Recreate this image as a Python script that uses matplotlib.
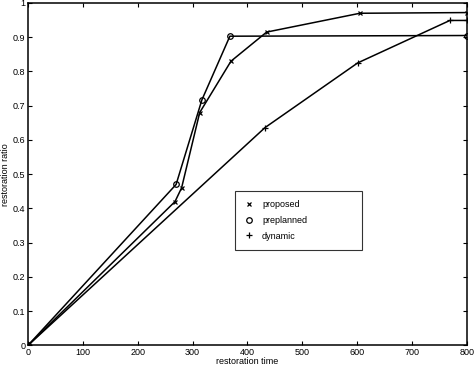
import matplotlib
matplotlib.use("Agg")
import matplotlib.pyplot as plt
from matplotlib.lines import Line2D

# data
proposed_t = [0, 268, 280, 313, 370, 435, 605, 800]
proposed_r = [0, 0.42, 0.46, 0.68, 0.83, 0.915, 0.97, 0.972]
preplanned_t = [0, 270, 317, 368, 800]
preplanned_r = [0, 0.47, 0.717, 0.903, 0.905]
dynamic_t = [0, 432, 601, 769, 800]
dynamic_r = [0, 0.636, 0.825, 0.949, 0.949]
xticks = [0, 100, 200, 300, 400, 500, 600, 700, 800]
yticks = [0, 0.1, 0.2, 0.3, 0.4, 0.5, 0.6, 0.7, 0.8, 0.9, 1]
ytick_labels = ["0", "0.1", "0.2", "0.3", "0.4", "0.5", "0.6", "0.7", "0.8", "0.9", "1"]

plt.rcParams['font.family'] = ['Liberation Sans', 'DejaVu Sans']
fig = plt.figure(figsize=(4.74, 3.73), dpi=100)
ax = fig.add_axes([0.059, 0.074, 0.926, 0.918])

lw = 1.1
ax.plot(proposed_t, proposed_r, color='black', lw=lw, marker='x', ms=3, mew=0.9)
ax.plot(preplanned_t, preplanned_r, color='black', lw=lw, marker='o', ms=4, mfc='none', mew=0.9)
ax.plot(dynamic_t, dynamic_r, color='black', lw=lw, marker='+', ms=4, mew=0.9)

ax.set_xlim(0, 800)
ax.set_ylim(0, 1)
ax.set_xticks(xticks)
ax.set_yticks(yticks)
ax.set_yticklabels(ytick_labels)
ax.tick_params(direction='in', top=True, right=True, labelsize=6.5, length=3, width=0.8, pad=2)
for s in ax.spines.values():
    s.set_linewidth(1.1)
ax.set_xlabel("restoration time", fontsize=6.5, labelpad=0)
ax.set_ylabel("restoration ratio", fontsize=6.5, labelpad=2)

handles = [
    Line2D([], [], color='black', linestyle='none', marker='x', ms=3, mew=0.9),
    Line2D([], [], color='black', linestyle='none', marker='o', ms=4, mfc='none', mew=0.9),
    Line2D([], [], color='black', linestyle='none', marker='+', ms=4, mew=0.9),
]
leg = ax.legend(handles, ["proposed", "preplanned", "dynamic"], loc='upper left',
                bbox_to_anchor=(0.4715, 0.451, 0.289, 0.0), mode='expand',
                borderaxespad=0,
                fontsize=6.5, frameon=True, fancybox=False, edgecolor='black',
                handlelength=1.2, handletextpad=0.8, borderpad=1.0, labelspacing=0.75)
leg.get_frame().set_linewidth(0.8)

fig.savefig("out.png", dpi=100)
